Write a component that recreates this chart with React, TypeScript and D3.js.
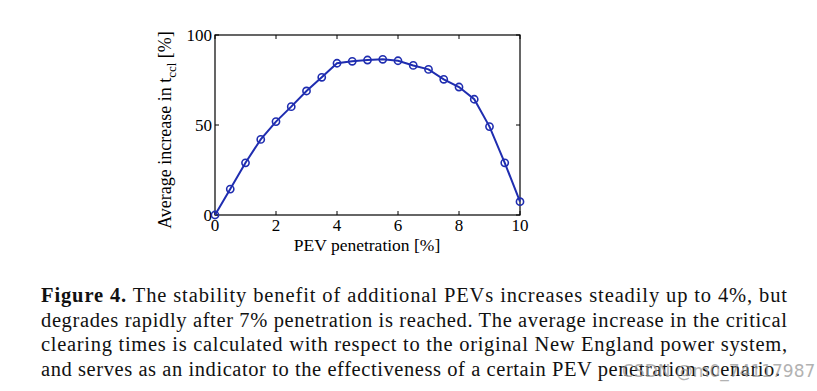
import { useEffect, useRef } from 'react';
import * as d3 from 'd3';

const penetration = [0, 0.5, 1, 1.5, 2, 2.5, 3, 3.5, 4, 4.5, 5, 5.5, 6, 6.5, 7, 7.5, 8, 8.5, 9, 9.5, 10];
const increase = [0, 14.4, 29, 42, 51.9, 60.2, 68.9, 76.5, 84.3, 85.4, 86.1, 86.5, 85.7, 83.1, 80.9, 75.4, 71.1, 64.3, 49.1, 29, 7.4];
const xTicks = [0, 2, 4, 6, 8, 10];
const yTicks = [0, 50, 100];

const captionLines = [
  { bold: 'Figure 4.', rest: ' The stability benefit of additional PEVs increases steadily up to 4%, but', width: 746 },
  { bold: '', rest: 'degrades rapidly after 7% penetration is reached. The average increase in the critical', width: 746 },
  { bold: '', rest: 'clearing times is calculated with respect to the original New England power system,', width: 746 },
  { bold: '', rest: 'and serves as an indicator to the effectiveness of a certain PEV penetration scenario.', width: 739 },
];

const App = () => {
  const svgRef = useRef<SVGSVGElement>(null);

  useEffect(() => {
    if (!svgRef.current) return;
    const root = d3.select(svgRef.current);
    root.selectAll('*').remove();

    const left = 215, right = 520, top = 35, bottom = 215;
    const x = d3.scaleLinear().domain([0, 10]).range([left, right]);
    const y = d3.scaleLinear().domain([0, 100]).range([bottom, top]);
    const blue = '#1f2db0';
    const font = '"Liberation Serif", "Times New Roman", serif';

    // box
    root.append('rect')
      .attr('x', left).attr('y', top)
      .attr('width', right - left).attr('height', bottom - top)
      .attr('fill', 'none').attr('stroke', '#000').attr('stroke-width', 1.2);

    // inward ticks on all sides
    const tl = 4;
    xTicks.forEach(t => {
      root.append('line').attr('x1', x(t)).attr('x2', x(t)).attr('y1', bottom).attr('y2', bottom - tl).attr('stroke', '#000');
      root.append('line').attr('x1', x(t)).attr('x2', x(t)).attr('y1', top).attr('y2', top + tl).attr('stroke', '#000');
      root.append('text')
        .attr('x', x(t)).attr('y', bottom + 16)
        .attr('text-anchor', 'middle')
        .style('font-family', font).style('font-size', '17px')
        .text(t);
    });
    yTicks.forEach(t => {
      root.append('line').attr('x1', left).attr('x2', left + tl).attr('y1', y(t)).attr('y2', y(t)).attr('stroke', '#000');
      root.append('line').attr('x1', right).attr('x2', right - tl).attr('y1', y(t)).attr('y2', y(t)).attr('stroke', '#000');
      root.append('text')
        .attr('x', left - 3).attr('y', y(t) + 6)
        .attr('text-anchor', 'end')
        .style('font-family', font).style('font-size', '17px')
        .text(t);
    });

    // axis labels
    root.append('text')
      .attr('x', 367).attr('y', 251)
      .attr('text-anchor', 'middle')
      .style('font-family', font).style('font-size', '17.5px')
      .text('PEV penetration [%]');

    const yl = root.append('text')
      .attr('transform', `translate(171, 130) rotate(-90)`)
      .attr('text-anchor', 'middle')
      .style('font-family', font).style('font-size', '18px');
    yl.append('tspan').text('Average increase in t');
    yl.append('tspan').attr('dy', 5).style('font-size', '13px').text('ccl');
    yl.append('tspan').attr('dy', -5).text(' [%]');

    // series
    const pts = penetration.map((p, i) => [p, increase[i]] as [number, number]);
    const line = d3.line<[number, number]>().x(d => x(d[0])).y(d => y(d[1]));
    root.append('path')
      .datum(pts)
      .attr('d', line)
      .attr('fill', 'none').attr('stroke', blue).attr('stroke-width', 2);
    root.selectAll('circle.pt').data(pts).enter().append('circle')
      .attr('class', 'pt')
      .attr('cx', d => x(d[0])).attr('cy', d => y(d[1]))
      .attr('r', 3.6)
      .attr('fill', 'none').attr('stroke', blue).attr('stroke-width', 1.6);

    // caption
    captionLines.forEach((c, i) => {
      const t = root.append('text')
        .attr('x', 41).attr('y', 302 + i * 24.7)
        .attr('textLength', c.width).attr('lengthAdjust', 'spacing')
        .style('font-family', font).style('font-size', '20.5px').style('fill', '#111');
      if (c.bold) t.append('tspan').style('font-weight', 'bold').text(c.bold);
      t.append('tspan').text(c.rest);
    });

    // watermark
    root.append('text')
      .attr('x', 622).attr('y', 377)
      .style('font-family', '"DejaVu Sans", sans-serif').style('font-size', '17px')
      .style('fill', '#999').style('opacity', 0.75)
      .text('CSDN @m0_74117987');
  }, []);

  return (
    <svg ref={svgRef} width={817} height={391}
      style={{ position: 'absolute', left: 0, top: 0, background: '#fff' }} />
  );
};

export default App;
